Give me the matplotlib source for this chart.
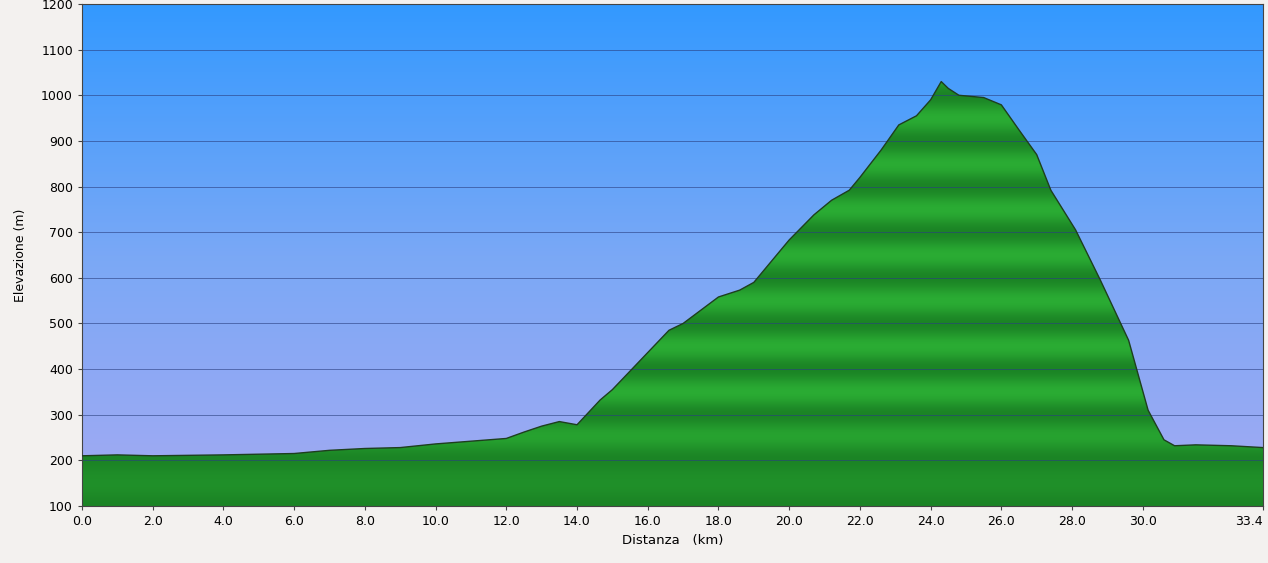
import numpy as np
import matplotlib
matplotlib.use("Agg")
import matplotlib.pyplot as plt
from matplotlib.colors import LinearSegmentedColormap

dist = [0, 1, 2, 4, 6, 7, 8, 9, 10, 11, 12, 12.5, 13, 13.5, 14.0, 14.65, 15.0, 15.8, 16.6, 17.0, 18.0,
        18.6, 19.0, 20.0, 20.7, 21.2, 21.7, 22.0, 22.6, 23.1, 23.6, 24.0, 24.3, 24.5, 24.8, 25.5,
        26.0, 26.5, 27.0, 27.4, 28.1, 28.8, 29.6, 30.15, 30.6, 30.9, 31.5, 32.5, 33.4]
elev = [210, 212, 210, 212, 215, 222, 226, 228, 236, 242, 248, 262, 275, 285, 278, 332, 355, 420, 485,
        500, 558, 573, 590, 683, 738, 770, 792, 820, 880, 935, 955, 990, 1030, 1015, 1000, 995,
        979, 924, 870, 792, 705, 595, 463, 310, 245, 232, 234, 232, 228]
xticks = [0, 2, 4, 6, 8, 10, 12, 14, 16, 18, 20, 22, 24, 26, 28, 30, 33.4]
yticks = list(range(100, 1201, 100))

fig = plt.figure(figsize=(12.68, 5.63), dpi=100, facecolor="#f3f1ef")
ax = fig.add_axes([82/1268, 1-506/563, (1263-82)/1268, (506-4)/563])
ax.set_xlim(0, 33.4)
ax.set_ylim(100, 1200)

sky = LinearSegmentedColormap.from_list("sky", ["#a4aaf2", "#7aa8f6", "#3399ff"])
grad = np.linspace(0, 1, 256).reshape(-1, 1)
ax.imshow(grad, cmap=sky, origin="lower", extent=[0, 33.4, 100, 1200], aspect="auto", zorder=0)

yy = np.linspace(100, 1200, 1100)
phase = ((yy - 100) % 100) / 100.0
band = 0.5 + 0.5 * np.cos(2 * np.pi * (phase - 0.5))
band = 0.35 + 0.55 * band * np.clip((yy - 100) / 200, 0.3, 1.0)
green = LinearSegmentedColormap.from_list("g", ["#126b1c", "#2db336"])
img = ax.imshow(band.reshape(-1, 1), cmap=green, vmin=0, vmax=1, origin="lower",
                extent=[0, 33.4, 100, 1200], aspect="auto", zorder=1)
poly = ax.fill_between(dist, elev, 100, color="none", zorder=1)
img.set_clip_path(poly.get_paths()[0], transform=ax.transData)
ax.plot(dist, elev, color="#1e3f1e", lw=1.0, zorder=3)

for y in yticks:
    ax.axhline(y, color="#2a3f80", lw=0.7, alpha=0.6, zorder=2)

ax.set_xticks(xticks)
ax.set_xticklabels([f"{v:.1f}" for v in xticks], fontsize=9)
ax.get_xticklabels()[-1].set_ha("right")
ax.set_yticks(yticks)
ax.set_yticklabels([str(v) for v in yticks], fontsize=9)
ax.tick_params(length=3, color="#444444")
ax.set_xlabel("Distanza   (km)", fontsize=9.5)
ax.set_ylabel("Elevazione (m)", fontsize=9, labelpad=10)
for s in ax.spines.values():
    s.set_color("#444444")
fig.savefig("out.png", dpi=100, facecolor=fig.get_facecolor())
